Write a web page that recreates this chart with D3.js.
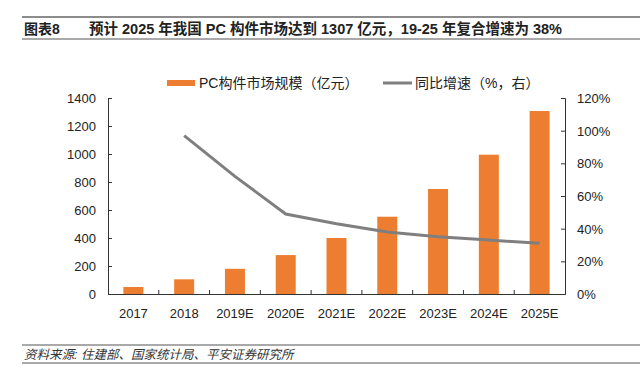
<!DOCTYPE html>
<html>
<head>
<meta charset="utf-8">
<script src="https://cdn.jsdelivr.net/npm/d3@7"></script>
<style>
  body { margin: 0; background: #fff; }
  svg { font-family: Arial, "Liberation Sans", "Noto Sans CJK SC", sans-serif; }
</style>
</head>
<body>
<div id="chart"></div>
<script>
const years = ["2017", "2018", "2019E", "2020E", "2021E", "2022E", "2023E", "2024E", "2025E"];
const marketSize = [50, 105, 180, 278, 400, 552, 750, 995, 1307];
const growth = [null, 0.97, 0.72, 0.49, 0.43, 0.38, 0.35, 0.33, 0.31];
const leftTicks = [0, 200, 400, 600, 800, 1000, 1200, 1400];
const rightTicks = [0, 0.2, 0.4, 0.6, 0.8, 1.0, 1.2];

const W = 640, H = 372;
const svg = d3.select("#chart").append("svg")
    .attr("width", W)
    .attr("height", H);

// title bar
svg.append("line").attr("x1", 22).attr("x2", W).attr("y1", 17).attr("y2", 17)
    .attr("stroke", "#8c8c8c").attr("stroke-width", 2);
svg.append("line").attr("x1", 22).attr("x2", W).attr("y1", 39).attr("y2", 39)
    .attr("stroke", "#8c8c8c").attr("stroke-width", 1.5);
svg.append("text").attr("x", 24).attr("y", 34)
    .style("font-size", "14px").style("font-weight", "bold").attr("fill", "#222")
    .text("图表8");
svg.append("text").attr("x", 89).attr("y", 34)
    .style("font-size", "14.5px").style("font-weight", "bold").attr("fill", "#222")
    .text("预计 2025 年我国 PC 构件市场达到 1307 亿元，19-25 年复合增速为 38%");

// footer
svg.append("line").attr("x1", 22).attr("x2", W).attr("y1", 345).attr("y2", 345)
    .attr("stroke", "#8c8c8c").attr("stroke-width", 1.5);
svg.append("line").attr("x1", 22).attr("x2", W).attr("y1", 363).attr("y2", 363)
    .attr("stroke", "#8c8c8c").attr("stroke-width", 1.5);
svg.append("text").attr("x", 24).attr("y", 359)
    .style("font-size", "12.5px").style("font-style", "italic").attr("fill", "#333")
    .text("资料来源: 住建部、国家统计局、平安证券研究所");

const plotL = 108, plotR = 565, plotT = 98, plotB = 294;

const x = d3.scaleBand().domain(years).range([plotL, plotR]).paddingInner(0).paddingOuter(0);
const y = d3.scaleLinear().domain([0, 1400]).range([plotB, plotT]);
const y2 = d3.scaleLinear().domain([0, 1.2]).range([plotB, plotT]);

const barW = 20;
svg.selectAll(".bar")
    .data(years)
    .enter()
    .append("rect")
    .attr("class", "bar")
    .attr("x", (d) => x(d) + x.bandwidth() / 2 - barW / 2)
    .attr("width", barW)
    .attr("y", (d, i) => y(marketSize[i]))
    .attr("height", (d, i) => plotB - y(marketSize[i]))
    .attr("fill", "#ED7D31");

const line = d3.line()
    .defined((d) => d.v != null)
    .x((d) => x(d.k) + x.bandwidth() / 2)
    .y((d) => y2(d.v));
svg.append("path")
    .datum(years.map((k, i) => ({k: k, v: growth[i]})))
    .attr("d", line)
    .attr("fill", "none")
    .attr("stroke", "#7F7F7F")
    .attr("stroke-width", 3);

// axes
const axisColor = "#333";
const gl = svg.append("g")
    .attr("transform", `translate(${plotL},0)`)
    .call(d3.axisRight(y).tickValues(leftTicks).tickSize(4).tickFormat(""));
const gr = svg.append("g")
    .attr("transform", `translate(${plotR},0)`)
    .call(d3.axisLeft(y2).tickValues(rightTicks).tickSize(4).tickFormat(""));
const gx = svg.append("g")
    .attr("transform", `translate(0,${plotB})`)
    .call(d3.axisTop(x).tickValues([]).tickSize(0));
[gl, gr, gx].forEach((g) => {
    g.select(".domain").attr("stroke", axisColor);
    g.selectAll(".tick line").attr("stroke", axisColor);
});
// category boundary ticks on x axis
svg.selectAll(".xtick")
    .data(years.slice(1))
    .enter()
    .append("line")
    .attr("x1", (d) => x(d)).attr("x2", (d) => x(d))
    .attr("y1", plotB).attr("y2", plotB - 4)
    .attr("stroke", axisColor);

svg.selectAll(".ylab")
    .data(leftTicks)
    .enter()
    .append("text")
    .attr("x", 96)
    .attr("y", (d) => y(d) + 5)
    .attr("text-anchor", "end")
    .style("font-size", "13px")
    .attr("fill", "#222")
    .text((d) => d);

svg.selectAll(".y2lab")
    .data(rightTicks)
    .enter()
    .append("text")
    .attr("x", 577)
    .attr("y", (d) => y2(d) + 5)
    .style("font-size", "13px")
    .attr("fill", "#222")
    .text((d) => d3.format(".0%")(d));

svg.selectAll(".xlab")
    .data(years)
    .enter()
    .append("text")
    .attr("x", (d) => x(d) + x.bandwidth() / 2)
    .attr("y", 318)
    .attr("text-anchor", "middle")
    .style("font-size", "13px")
    .attr("fill", "#222")
    .text((d) => d);

// legend
svg.append("rect").attr("x", 167).attr("y", 80).attr("width", 28).attr("height", 6)
    .attr("fill", "#ED7D31");
svg.append("text").attr("x", 199).attr("y", 88)
    .style("font-size", "14px").attr("fill", "#222")
    .text("PC构件市场规模（亿元）");
svg.append("line").attr("x1", 383).attr("x2", 412).attr("y1", 83).attr("y2", 83)
    .attr("stroke", "#7F7F7F").attr("stroke-width", 3);
svg.append("text").attr("x", 415).attr("y", 88)
    .style("font-size", "14px").attr("fill", "#222")
    .text("同比增速（%，右）");
</script>
</body>
</html>
